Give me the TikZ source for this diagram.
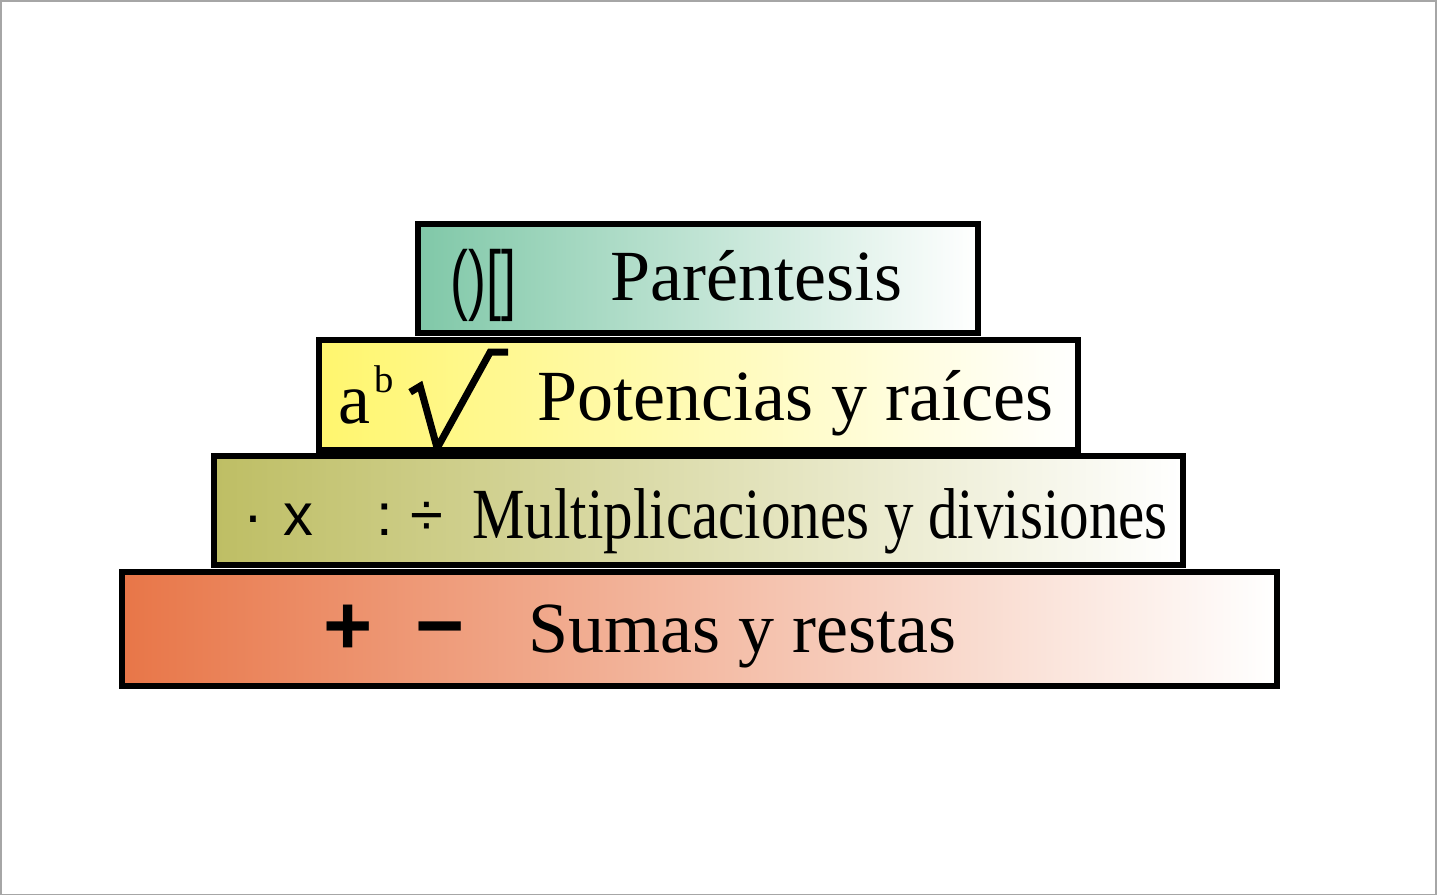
\documentclass[tikz,border=0pt]{standalone}
\usepackage{fontspec}
\setmainfont{Liberation Serif}
\newfontfamily\symf{Liberation Sans}
\definecolor{cteal}{RGB}{128,200,168}
\definecolor{cyel}{RGB}{255,246,110}
\definecolor{coli}{RGB}{190,190,100}
\definecolor{cora}{RGB}{232,118,72}
\begin{document}
\begin{tikzpicture}[x=0.02cm,y=-0.02cm,
  step box/.style={draw=black,line width=3.4pt},
  lab/.style={anchor=base west,inner sep=0pt,font=\fontsize{41}{41}\selectfont},
  sym/.style={anchor=base,inner sep=0pt,font=\symf\fontsize{34}{34}\selectfont}]
\draw[gray!70,line width=1pt,fill=white] (0.5,0.5) rectangle (1436.5,894.5);
\useasboundingbox (0,0) rectangle (1437,895);
\path[step box,left color=cora,right color=white] (122,572) rectangle (1277,686);
\path[step box,left color=coli,right color=white] (214,456) rectangle (1183,565);
\path[step box,left color=cyel,right color=white] (319,340) rectangle (1078,450);
\path[step box,left color=cteal,right color=white] (418,224) rectangle (978,333);
\node[lab] (t1) at (610,300) {Paréntesis};
\node[lab] (t2) at (537,420) {Potencias y raíces};
\node[lab] (t3) at (472,538) {\scalebox{0.82}[1]{Multiplicaciones y divisiones}};
\node[lab] (t4) at (528,652) {Sumas y restas};
\node[sym] (s1) at (483,305) {\scalebox{0.9}[1.3]{()[]}};
\node[lab] (s2) at (338,423) {a};
\node[anchor=base west,inner sep=0pt,font=\fontsize{22}{22}\selectfont] (s3) at (374,392) {b};
\draw[line width=4pt,line join=miter] (410,392) -- (420,386) -- (437,448) -- (490,352) -- (508,352);
\node[sym] (s4) at (253,535) {·};
\node[sym] (s5) at (298,535) {x};
\node[sym] (s6) at (385,535) {:};
\node[sym] (s7) at (427,535) {÷};
\node[sym,font=\symf\bfseries\fontsize{48}{48}\selectfont] (s8) at (348,654) {+};
\node[sym,font=\symf\bfseries\fontsize{48}{48}\selectfont] (s9) at (440,654) {−};
\end{tikzpicture}
\end{document}
